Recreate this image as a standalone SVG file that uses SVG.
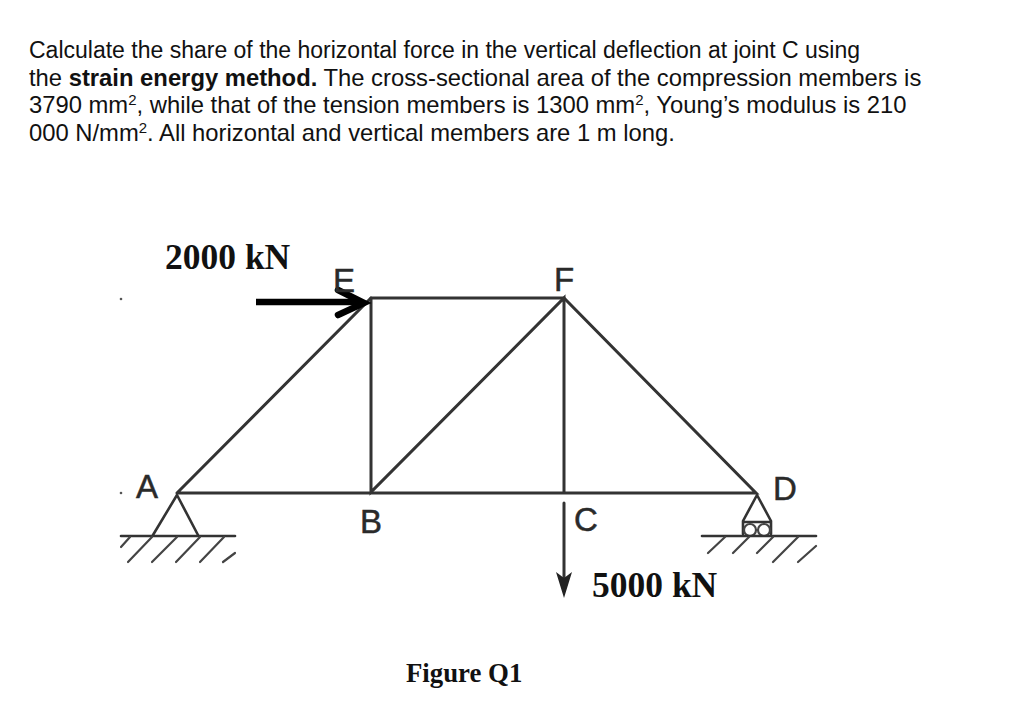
<svg xmlns="http://www.w3.org/2000/svg" width="1024" height="724" viewBox="0 0 1024 724">
<style>
.t{font-family:"Liberation Sans",Arial,sans-serif;font-size:23.8px;fill:#111}
.t1{font-size:23px}
.l{font-family:"Liberation Sans",Arial,sans-serif;font-size:33px;fill:#2a2a2a;stroke:#2a2a2a;stroke-width:.5}
.s{font-family:"Liberation Serif","Times New Roman",serif;font-weight:bold;fill:#111}
.m{stroke:#333;stroke-width:3;fill:none;stroke-linecap:round}
.g{stroke:#333;stroke-width:2.6;fill:none;stroke-linecap:round}
.h{stroke:#444;stroke-width:2.2;fill:none;stroke-linecap:round}
</style>
<rect width="1024" height="724" fill="#fff"/>
<g id="problem-text">
<text class="t t1" x="29" y="58">Calculate the share of the horizontal force in the vertical deflection at joint C using</text>
<text class="t" x="29" y="86">the <tspan font-weight="bold">strain energy method.</tspan> The cross-sectional area of the compression members is</text>
<text class="t" x="29" y="113">3790 mm<tspan font-size="15" dy="-8">2</tspan><tspan dy="8">, while that of the tension members is 1300 mm</tspan><tspan font-size="15" dy="-8">2</tspan><tspan dy="8">, Young’s modulus is 210</tspan></text>
<text class="t" x="29" y="141">000 N/mm<tspan font-size="15" dy="-8">2</tspan><tspan dy="8">. All horizontal and vertical members are 1 m long.</tspan></text>
</g>
<g id="connectors">
<path class="m" d="M177 493L371 298H564L756 493H177"/>
<path class="m" d="M371 298V492L564 298V492"/>
<path d="M256 302H358" stroke="#000" stroke-width="6.5" fill="none"/>
<path d="M338 290L364 303L338 315" stroke="#000" stroke-width="6.5" fill="none" stroke-linecap="round"/>
<path class="m" d="M564 503V580"/>
<path d="M556 572L564 578L572 572L564 598Z" fill="#222"/>
</g>
<g id="node-E"><text class="l" x="344" y="292" text-anchor="middle">E</text></g>
<g id="node-F"><text class="l" x="564" y="291" text-anchor="middle">F</text></g>
<g id="node-A">
<text class="l" x="147" y="498" text-anchor="middle">A</text>
<path class="g" d="M177 495L153 535M177 495L198 535"/>
<path class="g" d="M121 536H235"/>
<path class="h" d="M121 547L130 537M128 562L152 537M152 562L177 537M176 562L200 537M200 562L224 537M223 562L235 553"/>
<circle cx="121" cy="493" r="1.3" fill="#555"/><circle cx="121" cy="299" r="1.3" fill="#555"/>
</g>
<g id="node-B"><text class="l" x="371" y="533" text-anchor="middle">B</text></g>
<g id="node-C"><text class="l" x="586" y="531" text-anchor="middle">C</text></g>
<g id="node-D">
<text class="l" x="785" y="500" text-anchor="middle">D</text>
<path class="g" d="M757 495L743 521V534M757 495L771 521V534M743 522H771"/>
<circle class="h" cx="750" cy="530" r="6"/><circle class="h" cx="764" cy="530" r="6"/>
<path class="g" d="M702 536H816"/>
<path class="h" d="M708 553L725 537M733 553L749 537M757 553L773 537M773 562L798 537M798 562L816 546"/>
</g>
<g id="labels">
<text class="s" x="165" y="269" font-size="35.5">2000 kN</text>
<text class="s" x="592" y="597" font-size="35.5">5000 kN</text>
<text class="s" x="406" y="682" font-size="26.8">Figure Q1</text>
</g>
</svg>
